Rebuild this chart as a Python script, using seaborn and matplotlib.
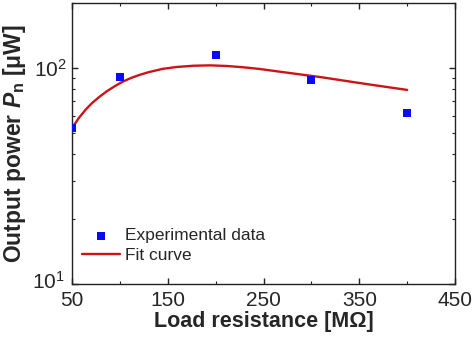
import numpy as np
import pandas as pd
import seaborn as sns
import matplotlib
matplotlib.use("Agg")
import matplotlib.pyplot as plt
from matplotlib.ticker import LogLocator, MultipleLocator, NullFormatter
from matplotlib.transforms import ScaledTranslation

# Measured output power versus load resistance
resistance = [50, 100, 200, 300, 400]           # MΩ
power = [52.7, 90.9, 114.4, 88.0, 62.0]         # μW

# Fitted model curve
fit_resistance = [50, 57, 64, 71, 78, 86, 95, 103, 112, 121, 130, 145,
                  160, 177, 194, 212, 229, 246, 276, 311, 346, 368, 400]
fit_power = [52.7, 58.6, 64.0, 68.9, 73.2, 77.9, 82.6, 86.5, 90.1, 93.1,
             95.7, 99.2, 101.2, 102.5, 102.9, 102.2, 100.8, 99.0, 95.0,
             90.6, 85.8, 83.0, 79.2]

x_ticks = [50, 150, 250, 350, 450]

sns.set_theme(style="ticks")
plt.rcParams["font.family"] = ["Liberation Sans", "DejaVu Sans"]
plt.rcParams["mathtext.fontset"] = "custom"
plt.rcParams["mathtext.rm"] = "Liberation Sans:bold"
plt.rcParams["mathtext.it"] = "Liberation Sans:italic:bold"
plt.rcParams["mathtext.bf"] = "Liberation Sans:bold"

data = pd.DataFrame({"R": resistance, "P": power})
fit = pd.DataFrame({"R": fit_resistance, "P": fit_power})

fig = plt.figure(figsize=(4.74, 3.40), dpi=100)
ax = fig.add_axes([0.152, 0.165, 0.808, 0.826])

sns.scatterplot(data=data, x="R", y="P", marker="s", s=38, color="#0a0af5",
                linewidth=0, ax=ax, label="Experimental data", zorder=3)
sns.lineplot(data=fit, x="R", y="P", color="#cc1417", linewidth=1.7,
             ax=ax, label="Fit curve", zorder=2)

ax.set_yscale("log")
ax.set_xlim(50, 450)
ax.set_ylim(10, 200)
ax.set_xticks(x_ticks)
ax.xaxis.set_minor_locator(MultipleLocator(50))
ax.yaxis.set_major_locator(LogLocator(base=10, numticks=5))
ax.yaxis.set_minor_locator(LogLocator(base=10, subs=np.arange(2, 10), numticks=12))
ax.yaxis.set_minor_formatter(NullFormatter())

ax.tick_params(axis="both", which="both", direction="in", top=True, right=True,
               color="#222222")
ax.tick_params(axis="both", which="major", length=4, width=1.0,
               labelsize=15, pad=4)
ax.tick_params(axis="x", which="major", pad=5)
ax.tick_params(axis="both", which="minor", length=2.5, width=0.8)
for sp in ax.spines.values():
    sp.set_linewidth(1.0)
    sp.set_color("#222222")

fig.canvas.draw()
# lift the lowest decade label a little so it clears the first x label
for lab in ax.get_yticklabels():
    if lab.get_position()[1] == 10:
        lab.set_transform(lab.get_transform() +
                          ScaledTranslation(-1 / 72, 3 / 72, fig.dpi_scale_trans))

ax.set_xlabel("Load resistance [MΩ]", fontsize=15.5, fontweight="bold",
              labelpad=1)
ax.set_ylabel(r"Output power $P_{\mathrm{n}}$ [μW]", fontsize=16.5,
              fontweight="bold", labelpad=3)

leg = ax.legend(loc="lower left", bbox_to_anchor=(0.026, 0.075),
                frameon=False, fontsize=12.5, handlelength=2.2,
                handletextpad=0.3, labelspacing=0.25, borderpad=0,
                borderaxespad=0)

fig.savefig("out.png", dpi=100)
